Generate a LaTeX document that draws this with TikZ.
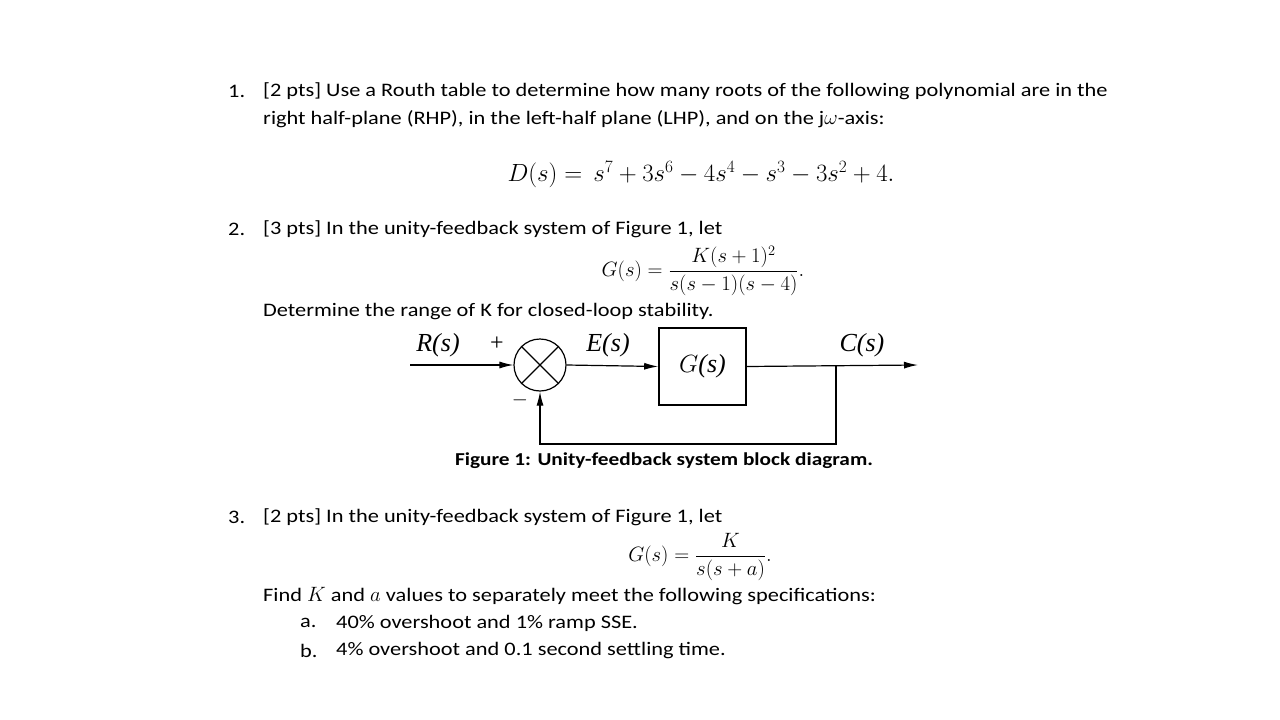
\documentclass[tikz,border=0pt]{standalone}
\usepackage{amsmath}
\usepackage{fontspec}
\setmainfont{Carlito}[FakeStretch=1.17]
\newfontfamily\tnr{Liberation Serif}
\usetikzlibrary{arrows.meta}
\begin{document}
\begin{tikzpicture}[x=1pt,y=-1pt,
  txt/.style={anchor=west,inner sep=0pt,font=\fontsize{19.1}{23}\selectfont},
  mth/.style={inner sep=0pt,font=\fontsize{23}{27}\selectfont},
  fr/.style={inner sep=0pt,font=\fontsize{21}{25}\selectfont},
  lab/.style={inner sep=0pt,font=\tnr\fontsize{26}{30}\selectfont\itshape},
  wire/.style={line width=1.2pt},
  arr/.style={wire,-{Latex[length=14pt,width=7pt]}}]
\useasboundingbox[fill=white] (0,0) rectangle (1280,720);
\node[txt] (n1) at (228,91) {1.};
\node[txt] (t1a) at (263,91) {[2 pts] Use a Routh table to determine how many roots of the following polynomial are in the};
\node[txt] (t1b) at (263,119) {right half-plane (RHP), in the left-half plane (LHP), and on the j$\omega$-axis:};
\node[mth] (e1) at (701,175) {$D(s) = \, s^7+3s^6-4s^4-s^3-3s^2+4.$};
\node[txt] (n2) at (228,229) {2.};
\node[txt] (t2a) at (263,229) {[3 pts] In the unity-feedback system of Figure 1, let};
\node[fr] (e2) at (703,271) {$G(s)=\dfrac{K(s+1)^2}{s(s-1)(s-4)}.$};
\node[txt] (t2b) at (263,312) {Determine the range of K for closed-loop stability.};
% block diagram
\node[circle,draw,line width=1.2pt,minimum size=52pt,inner sep=0pt] (sum) at (540,365) {};
\draw[line width=1.2pt] (sum.north west)--(sum.south east) (sum.north east)--(sum.south west);
\node[draw,line width=1.6pt,minimum width=87pt,minimum height=77pt,inner sep=0pt] (G) at (702.5,366.5) {};
\node[lab] (gl) at (G.center) {$G$(\textit{s})};
\coordinate (in) at (410,365);
\coordinate (out) at (918,365);
\coordinate (tap) at (836,365);
\coordinate (fb1) at (836,444);
\coordinate (fb2) at (540,444);
\draw[arr] (in) -- (sum.west);
\draw[arr] (sum.east) -- (G.west);
\draw[arr] (G.east) -- (out);
\draw[arr] (tap) -- (fb1) -- (fb2) -- (sum.south);
\node[lab] (R) at (438,345) {R(s)};
\node[inner sep=0pt,font=\tnr\fontsize{24}{28}\selectfont] (plus) at (497,344) {+};
\node[inner sep=0pt,font=\tnr\fontsize{22}{26}\selectfont] (minus) at (520,400) {$-$};
\node[lab] (E) at (608,345) {E(s)};
\node[lab] (C) at (862,345) {C(s)};
\node[inner sep=0pt,font=\bfseries\fontsize{18.2}{22}\selectfont] (cap) at (664,461) {Figure 1: Unity-feedback system block diagram.};
\node[txt] (n3) at (228,517) {3.};
\node[txt] (t3a) at (263,517) {[2 pts] In the unity-feedback system of Figure 1, let};
\node[fr] (e3) at (700,557) {$G(s)=\dfrac{K}{s(s+a)}.$};
\node[txt] (t3b) at (263,596) {Find $K$ and $a$ values to separately meet the following specifications:};
\node[txt] (a) at (300,623) {a.};
\node[txt] (at) at (336,623) {40\% overshoot and 1\% ramp SSE.};
\node[txt] (b) at (300,651) {b.};
\node[txt] (bt) at (336,651) {4\% overshoot and 0.1 second settling time.};
\end{tikzpicture}
\end{document}
